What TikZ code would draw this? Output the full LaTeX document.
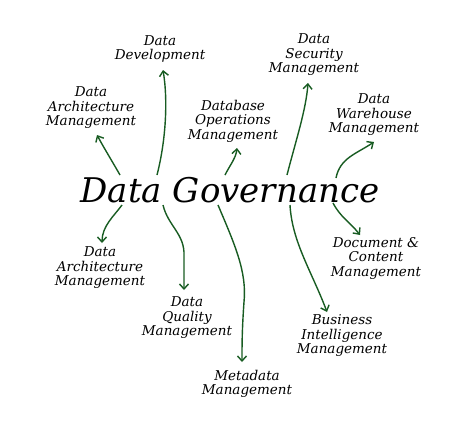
\documentclass[tikz,border=0pt]{standalone}
\usepackage{fontspec}
\setmainfont{DejaVu Serif}
\usepackage{tikz}
\usetikzlibrary{arrows.meta}

\definecolor{arrgreen}{RGB}{24,92,34}

\tikzset{
	topic/.style={align=center, inner sep=1pt, font=\fontsize{13.5}{14.5}\selectfont\itshape},
	arr/.style={draw=arrgreen, line width=1.4pt, -{Straight Barb[length=5pt,width=9pt]}}
}

\begin{document}
\begin{tikzpicture}[x=1pt, y=-1pt]
	\useasboundingbox (0,0) rectangle (474,447);
	\node [font=\fontsize{34}{36}\selectfont\itshape] (gov) at (230,190) {Data Governance};
	% labels round the title
	\node [topic] (dev) at (160,49) {Data\\Development};
	\node [topic] (archtop) at (91,108) {Data\\Architecture\\Management};
	\node [topic] (dbops) at (233,121) {Database\\Operations\\Management};
	\node [topic] (sec) at (314,55) {Data\\Security\\Management};
	\node [topic] (wh) at (374,115) {Data\\Warehouse\\Management};
	\node [topic] (doc) at (376,258) {Document \&\\Content\\Management};
	\node [topic] (bi) at (342,336) {Business\\Intelligence\\Management};
	\node [topic] (meta) at (247,384) {Metadata\\Management};
	\node [topic] (qual) at (187,318) {Data\\Quality\\Management};
	\node [topic] (archbot) at (100,268) {Data\\Architecture\\Management};
	% start points on the title
	\coordinate (s_dev) at (157,175);
	\coordinate (s_archtop) at (120,175);
	\coordinate (s_dbops) at (225,175);
	\coordinate (s_sec) at (287,175);
	\coordinate (s_wh) at (336,178);
	\coordinate (s_doc) at (333,203);
	\coordinate (s_bi) at (290,205);
	\coordinate (s_meta) at (218,205);
	\coordinate (s_qual) at (163,205);
	\coordinate (s_archbot) at (122,205);
	% arrow tips
	\coordinate (t_dev) at (163,70);
	\coordinate (t_archtop) at (97,135);
	\coordinate (t_dbops) at (237,148);
	\coordinate (t_sec) at (308,83);
	\coordinate (t_wh) at (374,142);
	\coordinate (t_doc) at (360,235);
	\coordinate (t_bi) at (327,312);
	\coordinate (t_meta) at (242,362);
	\coordinate (t_qual) at (184,290);
	\coordinate (t_archbot) at (102,243);
	\draw [arr] (s_dev) .. controls (166,140) and (168,100) .. (t_dev);
	\draw [arr] (s_archtop) .. controls (112,161) and (104,148) .. (t_archtop);
	\draw [arr] (s_dbops) .. controls (230,165) and (236,158) .. (t_dbops);
	\draw [arr] (s_sec) .. controls (296,140) and (306,110) .. (t_sec);
	\draw [arr] (s_wh) .. controls (340,158) and (356,154) .. (t_wh);
	\draw [arr] (s_doc) .. controls (341,218) and (350,222) .. (t_doc);
	\draw [arr] (s_bi) .. controls (292,242) and (312,272) .. (t_bi);
	\draw [arr] (s_meta) .. controls (235,245) and (247,272) .. (244,302) .. controls (242,330) and (242,345) .. (t_meta);
	\draw [arr] (s_qual) .. controls (168,226) and (185,234) .. (184,256) -- (t_qual);
	\draw [arr] (s_archbot) .. controls (114,216) and (102,226) .. (t_archbot);
\end{tikzpicture}
\end{document}
